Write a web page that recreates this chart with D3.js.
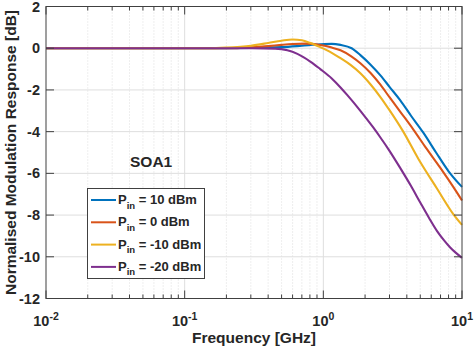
<!DOCTYPE html>
<html>
<head>
<meta charset="utf-8">
<script src="https://cdn.jsdelivr.net/npm/d3@7"></script>
<style>
  html, body { margin: 0; padding: 0; background: #fff; }
  svg { display: block; }
  text { font-family: "Liberation Sans", Arial, Helvetica, sans-serif; font-weight: bold; fill: #262626; }
</style>
</head>
<body>
<svg id="chart" width="474" height="349"></svg>
<script>
// ---- data ----
const freqBlue = [0.01, 0.1, 0.3, 0.5, 0.7, 0.95, 1.15, 1.33, 1.6, 1.85, 2.2, 2.58, 3.0, 3.59, 4.3, 5.26, 6.5, 8.0, 10];
const respBlue = [0, 0, 0.01, 0.05, 0.12, 0.19, 0.21, 0.16, 0.0, -0.33, -0.8, -1.3, -1.85, -2.5, -3.25, -4.05, -5.0, -5.9, -6.65];

const freqRed = [0.01, 0.2, 0.3, 0.4, 0.5, 0.6, 0.75, 0.95, 1.15, 1.33, 1.6, 1.85, 2.2, 2.58, 3.0, 3.59, 4.46, 5.5, 7.0, 8.65, 10];
const respRed = [0, 0, 0.04, 0.1, 0.16, 0.2, 0.22, 0.15, 0.03, -0.1, -0.4, -0.72, -1.2, -1.75, -2.35, -3.05, -3.9, -4.78, -5.75, -6.65, -7.3];

const freqYellow = [0.01, 0.15, 0.2, 0.3, 0.4, 0.5, 0.6, 0.7, 0.8, 0.95, 1.15, 1.33, 1.57, 1.85, 2.2, 2.58, 3.0, 3.77, 4.84, 6.63, 8.65, 10];
const respYellow = [0, 0, 0.03, 0.12, 0.25, 0.36, 0.42, 0.38, 0.26, 0.05, -0.22, -0.48, -0.8, -1.2, -1.75, -2.34, -2.97, -4.0, -5.3, -6.75, -7.95, -8.47];

const freqPurple = [0.01, 0.3, 0.45, 0.55, 0.65, 0.81, 0.95, 1.15, 1.33, 1.49, 1.85, 2.29, 2.58, 3.0, 3.59, 4.3, 5.0, 5.8, 6.63, 7.4, 8.22, 9.0, 10];
const respPurple = [0, 0, -0.02, -0.1, -0.27, -0.65, -1.0, -1.45, -1.88, -2.25, -3.0, -3.8, -4.28, -4.92, -5.75, -6.62, -7.4, -8.15, -8.78, -9.2, -9.55, -9.8, -10.05];

const seriesNames = ["10 dBm", "0 dBm", "-10 dBm", "-20 dBm"];
const seriesColors = ["#0072BD", "#D95319", "#EDB120", "#7E2F8E"];
const seriesFreqs = [freqBlue, freqRed, freqYellow, freqPurple];
const seriesResps = [respBlue, respRed, respYellow, respPurple];

const yTicks = [2, 0, -2, -4, -6, -8, -10, -12];
const xTickExps = [-2, -1, 0, 1];
const xLabel = "Frequency [GHz]";
const yLabel = "Normalised Modulation Response [dB]";
const annotation = "SOA1";

// ---- layout ----
const L = 46, R = 462, T = 6.5, B = 298.5;
const svg = d3.select("#chart");
const x = d3.scaleLog().domain([0.01, 10]).range([L, R]);
const y = d3.scaleLinear().domain([-12, 2]).range([B, T]);

// minor x positions
const minorX = [];
for (let e = -2; e < 1; e++) for (let m = 2; m <= 9; m++) minorX.push(m * Math.pow(10, e));
const majorX = xTickExps.map(e => Math.pow(10, e));

// grid
const grid = svg.append("g");
grid.selectAll(".gm").data(minorX).enter().append("line")
  .attr("x1", d => x(d)).attr("x2", d => x(d)).attr("y1", T).attr("y2", B)
  .attr("stroke", "#d6d6d6").attr("stroke-width", 0.8).attr("stroke-dasharray", "1,2");
grid.selectAll(".gx").data(majorX.slice(1, -1)).enter().append("line")
  .attr("x1", d => x(d)).attr("x2", d => x(d)).attr("y1", T).attr("y2", B)
  .attr("stroke", "#dedede").attr("stroke-width", 1);
grid.selectAll(".gy").data(yTicks.slice(1, -1)).enter().append("line")
  .attr("x1", L).attr("x2", R).attr("y1", d => y(d)).attr("y2", d => y(d))
  .attr("stroke", "#dedede").attr("stroke-width", 1);

// lines
const line = d3.line().x(d => x(d[0])).y(d => y(d[1])).curve(d3.curveMonotoneX);
seriesFreqs.forEach((fs, i) => {
  const pts = fs.map((f, j) => [f, seriesResps[i][j]]);
  svg.append("path").datum(pts).attr("d", line)
    .attr("fill", "none").attr("stroke", seriesColors[i]).attr("stroke-width", 2.1);
});

// axes box & ticks
const ax = svg.append("g").attr("stroke", "#404040").attr("stroke-width", 1);
ax.append("rect").attr("x", L).attr("y", T).attr("width", R - L).attr("height", B - T).attr("fill", "none");
const tickMajor = 8, tickMinor = 4;
majorX.forEach(v => {
  ax.append("line").attr("x1", x(v)).attr("x2", x(v)).attr("y1", B).attr("y2", B - tickMajor);
  ax.append("line").attr("x1", x(v)).attr("x2", x(v)).attr("y1", T).attr("y2", T + tickMajor);
});
minorX.forEach(v => {
  ax.append("line").attr("x1", x(v)).attr("x2", x(v)).attr("y1", B).attr("y2", B - tickMinor);
  ax.append("line").attr("x1", x(v)).attr("x2", x(v)).attr("y1", T).attr("y2", T + tickMinor);
});
yTicks.forEach(v => {
  ax.append("line").attr("x1", L).attr("x2", L + tickMajor).attr("y1", y(v)).attr("y2", y(v));
  ax.append("line").attr("x1", R).attr("x2", R - tickMajor).attr("y1", y(v)).attr("y2", y(v));
});

// y tick labels
svg.selectAll(".yl").data(yTicks).enter().append("text")
  .attr("x", L - 6).attr("y", d => y(d) + 5)
  .attr("text-anchor", "end").attr("font-size", 14.5)
  .text(d => d);

// x tick labels with superscript
xTickExps.forEach(e => {
  const t = svg.append("text").attr("x", x(Math.pow(10, e))).attr("y", 326)
    .attr("text-anchor", "middle").attr("font-size", 14.5);
  t.append("tspan").text("10");
  t.append("tspan").attr("dy", -6).attr("font-size", 10.5).text(e);
});

// axis labels
svg.append("text").attr("x", (L + R) / 2).attr("y", 343)
  .attr("text-anchor", "middle").attr("font-size", 15.5).text(xLabel);
svg.append("text").attr("transform", `translate(16,${(T + B) / 2}) rotate(-90)`)
  .attr("text-anchor", "middle").attr("font-size", 15.5).text(yLabel);

// annotation
svg.append("text").attr("x", 130).attr("y", 167).attr("font-size", 15.5).text(annotation);

// legend
const lg = svg.append("g");
lg.append("rect").attr("x", 87.5).attr("y", 188.5).attr("width", 117).attr("height", 90)
  .attr("fill", "#fff").attr("stroke", "#404040").attr("stroke-width", 1);
seriesNames.forEach((n, i) => {
  const cy = 200 + i * 22.3;
  lg.append("line").attr("x1", 91).attr("x2", 116).attr("y1", cy).attr("y2", cy)
    .attr("stroke", seriesColors[i]).attr("stroke-width", 2);
  const t = lg.append("text").attr("x", 118).attr("y", cy + 4).attr("font-size", 13);
  t.append("tspan").text("P");
  t.append("tspan").attr("dy", 4.5).attr("font-size", 9.5).text("in");
  t.append("tspan").attr("dy", -4.5).text(" = " + n);
});
</script>
</body>
</html>
